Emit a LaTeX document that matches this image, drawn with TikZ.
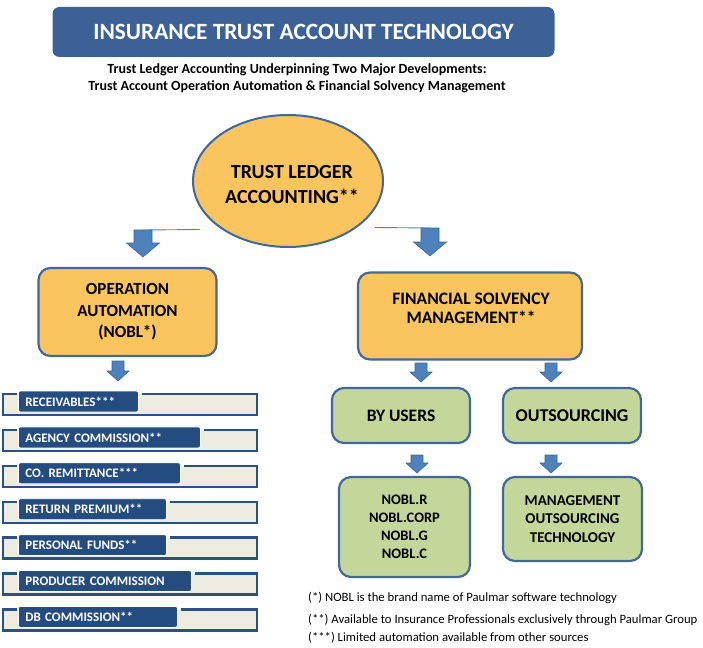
\documentclass[tikz,border=0pt]{standalone}
\usepackage{fontspec}
\setmainfont{Carlito}
\usetikzlibrary{shapes.geometric}
\definecolor{titleblue}{HTML}{3B6196}
\definecolor{edgeblue}{HTML}{41679B}
\definecolor{arrowblue}{HTML}{4F81BD}
\definecolor{arrowedge}{HTML}{3A679C}
\definecolor{boxorange}{HTML}{FAC55F}
\definecolor{boxgreen}{HTML}{C4D79B}
\definecolor{tabblue}{HTML}{244C80}
\definecolor{framebeige}{HTML}{EEECE1}
\definecolor{frameblue}{HTML}{2A5184}
\tikzset{
  orangebox/.style={draw=edgeblue, line width=2.2pt, fill=boxorange, rounded corners=12pt, align=center, font=\bfseries\fontsize{17}{21.5}\selectfont, inner sep=0pt},
  greenbox/.style={draw=edgeblue, line width=2.2pt, fill=boxgreen, rounded corners=12pt, align=center, font=\bfseries\fontsize{14}{18}\selectfont, inner sep=0pt},
  plaintext/.style={inner sep=0pt, align=center},
  arrowsty/.style={fill=arrowblue, draw=arrowedge, line width=0.6pt, line join=miter},
  tabsty/.style={fill=tabblue, draw=white, line width=0.8pt, rounded corners=2pt, text=white, font=\bfseries\fontsize{13}{15}\selectfont, anchor=west, inner xsep=7pt, inner ysep=0pt, minimum height=21pt, align=left},
  framesty/.style={draw=frameblue, line width=2.4pt, line join=miter},
  thinline/.style={draw=arrowblue, line width=0.9pt},
  footsty/.style={anchor=west, inner sep=0pt, font=\fontsize{12.7}{14}\selectfont},
}
\newcommand{\barr}[7]{%
  \draw[arrowsty] (#2-#5,#3) -- (#2+#5,#3) -- (#2+#5,#4-#7) -- (#2+#6,#4-#7) -- (#2,#4) -- (#2-#6,#4-#7) -- (#2-#5,#4-#7) -- cycle;
  \coordinate (#1) at (#2,#3);}
\begin{document}
\begin{tikzpicture}[x=1pt,y=-1pt]
\useasboundingbox (0,0) rectangle (703,647);
% title
\node[fill=titleblue, rounded corners=7pt, minimum width=502pt, minimum height=50pt, inner sep=0pt, text=white, font=\bfseries\fontsize{23.3}{26}\selectfont] (title) at (303.5,32) {INSURANCE TRUST ACCOUNT TECHNOLOGY};
\node[plaintext, font=\bfseries\fontsize{14}{17}\selectfont] (sub) at (297,78.5) {Trust Ledger Accounting Underpinning Two Major Developments:\\Trust Account Operation Automation \& Financial Solvency Management};
% ellipse
\node[ellipse, draw=edgeblue, line width=2pt, fill=boxorange, minimum width=190pt, minimum height=132pt, inner sep=0pt] (tla) at (288,181) {};
\node[plaintext, font=\bfseries\fontsize{20}{25}\selectfont] (tlatxt) at (292,185) {TRUST LEDGER\\ACCOUNTING**};
% big arrows
\barr{la}{143}{230}{257}{9}{16.5}{14}
\barr{ra}{430}{228}{256}{9}{16.5}{14}
\coordinate (lend) at (200,229.5);
\coordinate (rend) at (375,227.5);
\draw[thinline] (la) -- (lend);
\draw[thinline] (ra) -- (rend);
% orange boxes
\node[orangebox, minimum width=178pt, minimum height=88pt] (op) at (127.5,312) {OPERATION\\AUTOMATION\\(NOBL*)};
\node[orangebox, minimum width=224pt, minimum height=87pt] (fin) at (470,316) {};
\node[plaintext, font=\bfseries\fontsize{17.5}{19.5}\selectfont] (fintxt) at (471,308.5) {FINANCIAL SOLVENCY\\MANAGEMENT**};
% small arrows
\barr{oa}{118}{361}{381}{6}{11}{10}
\barr{fa1}{421}{363}{382}{6}{11}{10}
\barr{fa2}{551}{363}{382}{6}{11}{10}
\barr{ua}{417}{455}{473}{6}{11}{10}
\barr{sa}{551}{455}{473}{6}{11}{10}
% green boxes
\node[greenbox, minimum width=138pt, minimum height=55pt, font=\bfseries\fontsize{17.5}{18}\selectfont] (users) at (401,415.5) {BY USERS};
\node[greenbox, minimum width=138pt, minimum height=55pt, font=\bfseries\fontsize{18}{18}\selectfont] (outs) at (572,415.5) {OUTSOURCING};
\node[greenbox, minimum width=131pt, minimum height=100pt, font=\bfseries\fontsize{14.5}{18}\selectfont] (nobl) at (404.5,527) {NOBL.R\\NOBL.CORP\\NOBL.G\\NOBL.C};
\node[greenbox, minimum width=139pt, minimum height=84pt, font=\bfseries\fontsize{15}{18.5}\selectfont] (mgmt) at (572.5,519) {MANAGEMENT\\OUTSOURCING\\TECHNOLOGY};
% footnotes
\node[footsty] (f1) at (308,598) {(*) NOBL is the brand name of Paulmar software technology};
\node[footsty] (f2) at (308,620) {(**) Available to Insurance Professionals exclusively through Paulmar Group};
\node[footsty] (f3) at (308,637.5) {(***) Limited automation available from other sources};
% list items
\foreach \i/\txt/\te in {0/RECEIVABLES***/138, 1/AGENCY COMMISSION**/200, 2/CO. REMITTANCE***/180, 3/RETURN PREMIUM**/166, 4/PERSONAL FUNDS**/166, 5/PRODUCER COMMISSION/191, 6/DB COMMISSION**/177}{
  \pgfmathsetmacro{\yt}{394+35.9*\i}
  \pgfmathsetmacro{\yb}{\yt+21}
  \pgfmathsetmacro{\ym}{\yt+7.5}
  \pgfmathsetmacro{\tw}{\te-18}
  \pgfmathsetmacro{\tt}{\te-32}
  \pgfmathsetmacro{\tx}{\te+4}
  \fill[framebeige] (3,\yt) rectangle (257,\yb);
  \draw[framesty] (17,\yt) -- (3,\yt) -- (3,\yb) -- (257,\yb) -- (257,\yt) -- (\tx,\yt);
  \node[tabsty, minimum width=\tw pt, text width=\tt pt] (tab\i) at (18,\ym) {\txt};
}
\end{tikzpicture}
\end{document}
